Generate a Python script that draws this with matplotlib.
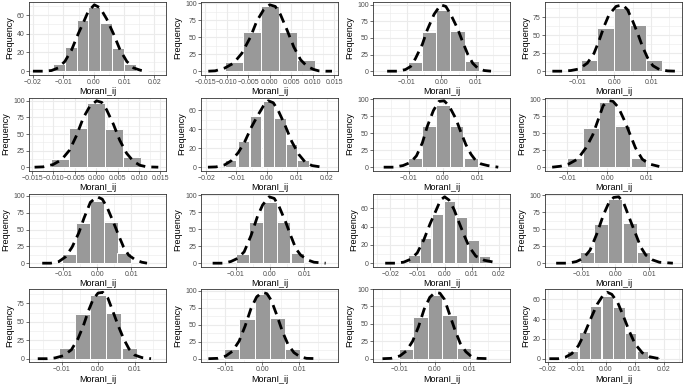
import numpy as np
import matplotlib
matplotlib.use("Agg")
import matplotlib.pyplot as plt

plt.rcParams["font.family"] = ["Liberation Sans", "DejaVu Sans"]

# 16 panels, row by row: histogram bars + dashed frequency curve
bar_centers = [
    [-0.0154, -0.0115, -0.0076, -0.0037, 0.0002, 0.0041, 0.0080, 0.0119, 0.0158],
    [-0.0125, -0.0084, -0.0042, 0.0, 0.0042, 0.0084, 0.0126],
    [-0.0076, -0.0035, 0.0006, 0.0047, 0.0088],
    [-0.0068, -0.0024, 0.0020, 0.0064, 0.0108],
    [-0.0126, -0.0084, -0.0042, 0.0, 0.0042, 0.0084, 0.0126],
    [-0.0119, -0.0076, -0.0036, 0.0006, 0.0044, 0.0083, 0.0121],
    [-0.0081, -0.0041, 0.0, 0.0039, 0.0080],
    [-0.0082, -0.0041, 0.0, 0.0039, 0.0079],
    [-0.0084, -0.0041, 0.0, 0.0040, 0.0080],
    [-0.0080, -0.0040, 0.0, 0.0040, 0.0080],
    [-0.0113, -0.0070, -0.0026, 0.0019, 0.0063, 0.0106, 0.0148],
    [-0.0084, -0.0042, 0.0, 0.0042, 0.0083],
    [-0.0085, -0.0043, 0.0, 0.0043, 0.0086],
    [-0.0082, -0.0041, 0.0, 0.0041, 0.0082],
    [-0.0082, -0.0041, 0.0, 0.0041, 0.0082],
    [-0.0155, -0.0115, -0.0075, -0.0035, 0.0005, 0.0045, 0.0085, 0.0125, 0.0165],
]
bar_counts = [
    [1, 8, 26, 55, 69, 52, 25, 8, 1],
    [1, 13, 58, 96, 57, 16, 1],
    [14, 59, 92, 61, 15],
    [16, 60, 87, 64, 16],
    [1, 13, 59, 96, 58, 16, 1],
    [8, 28, 54, 70, 52, 24, 8],
    [13, 61, 92, 61, 14],
    [14, 58, 96, 60, 14],
    [14, 60, 93, 61, 15],
    [14, 61, 90, 61, 15],
    [9, 28, 54, 68, 51, 25, 8],
    [17, 57, 94, 59, 16],
    [15, 60, 87, 62, 14],
    [14, 59, 95, 60, 15],
    [14, 60, 92, 62, 15],
    [1, 8, 27, 53, 63, 52, 26, 8, 2],
]
bar_width = [0.0039, 0.0042, 0.0041, 0.0044, 0.0042, 0.0038, 0.0040, 0.0039,
             0.0041, 0.0039, 0.0042, 0.0041, 0.0042, 0.0041, 0.0041, 0.0039]

curve_x = [
    [-0.0200, -0.0167, -0.0139, -0.0117, -0.0095, -0.0073, -0.0051, -0.0034, -0.0018, 0.0002, 0.0021, 0.0043, 0.0065, 0.0087, 0.0109, 0.0131, 0.0154, 0.0170],
    [-0.0143, -0.0127, -0.0104, -0.0084, -0.0065, -0.0045, -0.0030, -0.0014, 0.0, 0.0013, 0.0025, 0.0041, 0.0056, 0.0072, 0.0087, 0.0103, 0.0114, 0.0130, 0.0145],
    [-0.0157, -0.0128, -0.0104, -0.0089, -0.0075, -0.0055, -0.0041, -0.0021, -0.0002, 0.0013, 0.0027, 0.0047, 0.0061, 0.0076, 0.0091, 0.0105, 0.0124, 0.0144],
    [-0.0168, -0.0141, -0.0118, -0.0095, -0.0073, -0.0055, -0.0041, -0.0027, -0.0014, 0.0005, 0.0023, 0.0036, 0.0050, 0.0064, 0.0077, 0.0091, 0.0105, 0.0123, 0.0145, 0.0168],
    [-0.0144, -0.0124, -0.0101, -0.0081, -0.0062, -0.0046, -0.0030, -0.0015, 0.0001, 0.0013, 0.0024, 0.0040, 0.0055, 0.0071, 0.0087, 0.0102, 0.0118, 0.0145],
    [-0.0194, -0.0167, -0.0139, -0.0117, -0.0094, -0.0072, -0.0050, -0.0030, -0.0011, 0.0006, 0.0022, 0.0039, 0.0061, 0.0083, 0.0106, 0.0128, 0.0150, 0.0178],
    [-0.0172, -0.0143, -0.0116, -0.0094, -0.0077, -0.0060, -0.0046, -0.0028, -0.0012, 0.0003, 0.0017, 0.0037, 0.0051, 0.0066, 0.0081, 0.0095, 0.0110, 0.0129, 0.0160],
    [-0.0138, -0.0117, -0.0096, -0.0074, -0.0053, -0.0036, -0.0023, -0.0010, 0.0003, 0.0015, 0.0028, 0.0045, 0.0058, 0.0071, 0.0088, 0.0105, 0.0131],
    [-0.0162, -0.0137, -0.0113, -0.0093, -0.0074, -0.0054, -0.0039, -0.0020, 0.0, 0.0015, 0.0029, 0.0049, 0.0064, 0.0078, 0.0093, 0.0113, 0.0132, 0.0147],
    [-0.0167, -0.0138, -0.0114, -0.0094, -0.0075, -0.0055, -0.0036, -0.0021, -0.0002, 0.0013, 0.0027, 0.0047, 0.0061, 0.0076, 0.0090, 0.0110, 0.0129, 0.0163],
    [-0.0219, -0.0181, -0.0151, -0.0126, -0.0101, -0.0077, -0.0054, -0.0033, -0.0015, 0.0, 0.0016, 0.0035, 0.0053, 0.0072, 0.0090, 0.0115, 0.0146, 0.0189],
    [-0.0175, -0.0140, -0.0115, -0.0095, -0.0075, -0.0055, -0.0035, -0.0020, -0.0005, 0.0010, 0.0025, 0.0045, 0.0060, 0.0075, 0.0090, 0.0110, 0.0130, 0.0170],
    [-0.0165, -0.0140, -0.0118, -0.0095, -0.0073, -0.0055, -0.0040, -0.0027, -0.0014, 0.0, 0.0013, 0.0027, 0.0040, 0.0055, 0.0070, 0.0085, 0.0100, 0.0120, 0.0145],
    [-0.0145, -0.0120, -0.0098, -0.0080, -0.0062, -0.0046, -0.0030, -0.0015, 0.0, 0.0013, 0.0025, 0.0040, 0.0055, 0.0070, 0.0086, 0.0102, 0.0120, 0.0155],
    [-0.0150, -0.0125, -0.0100, -0.0082, -0.0064, -0.0047, -0.0031, -0.0015, 0.0, 0.0014, 0.0027, 0.0042, 0.0057, 0.0072, 0.0088, 0.0104, 0.0122, 0.0160],
    [-0.0195, -0.0165, -0.0140, -0.0118, -0.0095, -0.0073, -0.0050, -0.0030, -0.0010, 0.0005, 0.0020, 0.0040, 0.0060, 0.0080, 0.0100, 0.0125, 0.0150, 0.0175, 0.0200],
]
curve_y = [
    [0, 0, 0.7, 3.5, 10.4, 22.6, 40, 52, 64, 71, 67.8, 55.7, 40, 22.6, 10.4, 3.5, 1, 0],
    [0, 0.5, 4.8, 11.9, 26.2, 50, 73.8, 90.5, 97.6, 95.2, 83.3, 59.5, 35.7, 16.7, 7.1, 2.4, 0.5, 0, 0],
    [0, 0, 2.4, 7.1, 19, 40.5, 61.9, 85.7, 100, 97.6, 85.7, 64.3, 45.2, 26.2, 11.9, 4.8, 1, 0],
    [0, 0, 0.9, 3.1, 11.2, 24.7, 42.6, 62.8, 78.5, 89.8, 92, 85.3, 69.6, 52, 33.7, 18, 7.6, 2.2, 0.4, 0],
    [0, 0.5, 3.9, 11.2, 25.9, 47.8, 74.6, 91.7, 100, 97.6, 86.8, 64.9, 40.5, 20.9, 8.8, 2.9, 0.5, 0],
    [0, 0.3, 2.4, 6.8, 15.3, 27.1, 42.4, 54.2, 64.4, 70, 68, 59.3, 44.1, 27.1, 13.6, 5.1, 1.7, 0.3],
    [0, 0, 2.4, 7.1, 16.7, 35.7, 59.5, 83.3, 96.7, 97.6, 90.5, 71.4, 52.4, 33.3, 19, 9.5, 4.8, 2.4, 0],
    [0, 1.4, 4.8, 11.9, 28.6, 47.6, 69, 90.5, 97.6, 96.7, 88.1, 66.7, 47.6, 28.6, 11.9, 4.8, 1],
    [0, 0, 2.4, 9.5, 23.8, 45.2, 66.7, 90.5, 98.6, 95.2, 83.3, 59.5, 40.5, 23.8, 11.9, 4.8, 1.4, 0],
    [0, 0, 2.4, 7.1, 16.7, 40.5, 69, 85.7, 97.6, 95.2, 83.3, 59.5, 40.5, 21.4, 11.9, 4.8, 1.4, 0],
    [0, 0, 1.1, 4.2, 11.2, 25.3, 42.8, 56.8, 69.1, 72.6, 69.1, 58.6, 44.6, 30.5, 18.2, 7.7, 3.2, 0.7],
    [0, 0, 2.4, 7.1, 19, 42.9, 71.4, 88.1, 96.7, 97.6, 88.1, 61.9, 42.9, 23.8, 11.9, 4.8, 1.4, 0],
    [0, 0, 1, 4, 12, 27, 45, 64, 80, 89, 90, 82, 65, 45, 27, 13, 5, 1.5, 0],
    [0, 0.5, 4, 11, 26, 48, 74, 91, 98, 96, 86, 64, 40, 21, 9, 3, 0.5, 0],
    [0, 0.5, 4, 11, 25, 46, 71, 88, 95, 94, 85, 63, 41, 22, 10, 3, 0.5, 0],
    [0, 0, 1.5, 5, 13, 26, 42, 55, 64, 67, 65, 57, 43, 28, 15, 6, 2, 0.5, 0],
]

x_limits = [
    (-0.0213, 0.0238), (-0.0160, 0.0159), (-0.0198, 0.0199), (-0.0188, 0.0184),
    (-0.0157, 0.0163), (-0.0217, 0.0236), (-0.0203, 0.0194), (-0.0156, 0.0188),
    (-0.0201, 0.0203), (-0.0201, 0.0199), (-0.0264, 0.0241), (-0.0208, 0.0197),
    (-0.0189, 0.0186), (-0.0165, 0.0205), (-0.0177, 0.0214), (-0.0210, 0.0262),
]
ticks_wide = [-0.02, -0.01, 0.0, 0.01, 0.02]
ticks_fine = [-0.015, -0.01, -0.005, 0.0, 0.005, 0.01, 0.015]
ticks_mid = [-0.01, 0.0, 0.01]
x_ticks = [ticks_wide, ticks_fine, ticks_mid, ticks_mid,
           ticks_fine, ticks_wide, ticks_mid, ticks_mid,
           ticks_mid, ticks_mid, ticks_wide, ticks_mid,
           ticks_mid, ticks_mid, ticks_mid, ticks_wide]
tick_decimals = [2, 3, 2, 2, 3, 2, 2, 2, 2, 2, 2, 2, 2, 2, 2, 2]
y_ticks = [[0, 20, 40, 60], [0, 25, 50, 75, 100], [0, 25, 50, 75, 100], [0, 25, 50, 75],
           [0, 25, 50, 75, 100], [0, 20, 40, 60], [0, 25, 50, 75, 100], [0, 25, 50, 75, 100],
           [0, 25, 50, 75, 100], [0, 25, 50, 75, 100], [0, 20, 40, 60], [0, 25, 50, 75, 100],
           [0, 25, 50, 75], [0, 25, 50, 75, 100], [0, 25, 50, 75, 100], [0, 20, 40, 60]]

W, H = 685, 384
fig = plt.figure(figsize=(W / 100, H / 100), dpi=100)
col_left = [29, 201, 373, 545]
row_top = [1.5, 97.5, 193.5, 289]
pw, ph = 137, 73

def minor_between(ticks, lo, hi):
    step = ticks[1] - ticks[0]
    ext = [ticks[0] - step] + list(ticks) + [ticks[-1] + step]
    mids = [(a + b) / 2 for a, b in zip(ext[:-1], ext[1:])]
    return [m for m in mids if lo <= m <= hi]

for i in range(16):
    r, c = divmod(i, 4)
    ax = fig.add_axes([col_left[c] / W, 1 - (row_top[r] + ph) / H, pw / W, ph / H])

    ax.bar(bar_centers[i], bar_counts[i], width=bar_width[i], color="#999999",
           edgecolor="white", linewidth=0.7, zorder=2)
    ax.plot(curve_x[i], curve_y[i], color="black", lw=2.0,
            linestyle=(0, (3.5, 2.2)), zorder=3)

    top = max(max(curve_y[i]), max(bar_counts[i]))
    ylo, yhi = -0.05 * top, 1.05 * top
    ax.set_ylim(ylo, yhi)
    ax.set_xlim(*x_limits[i])

    xt = x_ticks[i]
    ax.set_xticks(xt)
    ax.set_xticklabels([f"{v:.{tick_decimals[i]}f}".replace("-", "\u2212") for v in xt])
    ax.set_xticks(minor_between(xt, *x_limits[i]), minor=True)
    yt = y_ticks[i]
    ax.set_yticks(yt)
    ax.set_yticks(minor_between(yt, ylo, yhi), minor=True)

    ax.grid(which="major", color="#EBEBEB", lw=0.8, zorder=0)
    ax.grid(which="minor", color="#EBEBEB", lw=0.4, zorder=0)
    ax.set_axisbelow(True)
    for s in ax.spines.values():
        s.set_color("#333333")
        s.set_linewidth(0.6)
    ax.tick_params(which="major", length=2, width=0.5, color="#333333",
                   labelsize=5, labelcolor="#4D4D4D", pad=1)
    ax.tick_params(which="minor", length=0)
    ax.set_xlabel("MoranI_ij", fontsize=6.5, labelpad=1)
    ax.set_ylabel("Frequency", fontsize=6.5, labelpad=2)

fig.savefig("out.png", dpi=100)
